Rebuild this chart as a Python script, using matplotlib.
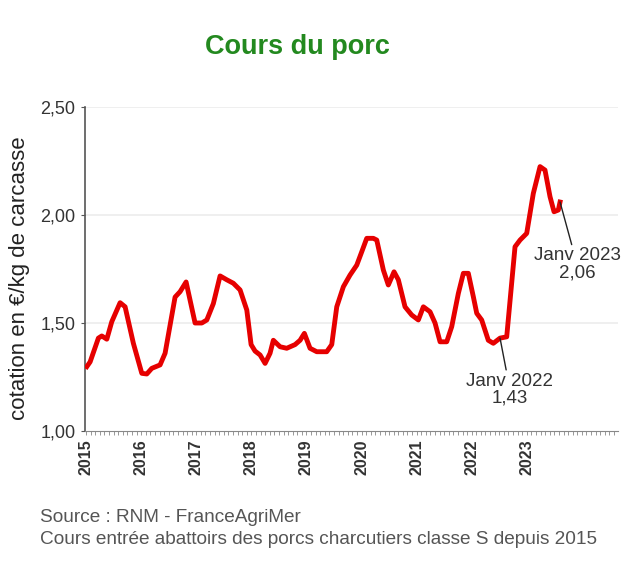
import matplotlib
matplotlib.use("Agg")
import matplotlib.pyplot as plt
from matplotlib.ticker import FixedLocator, FuncFormatter
import numpy as np

plt.rcParams['font.family'] = ['Liberation Sans', 'DejaVu Sans']

# weekly price (decimal year, EUR/kg carcass)
t = [2015.013, 2015.073, 2015.223, 2015.285, 2015.376, 2015.466, 2015.617, 2015.708,
     2015.858, 2016.011, 2016.102, 2016.192, 2016.343, 2016.434, 2016.615, 2016.706,
     2016.815, 2016.978, 2017.100, 2017.191, 2017.310, 2017.432, 2017.554, 2017.673,
     2017.795, 2017.917, 2017.995, 2018.067, 2018.158, 2018.249, 2018.339, 2018.399,
     2018.521, 2018.642, 2018.793, 2018.884, 2018.962, 2019.065, 2019.187, 2019.368,
     2019.459, 2019.550, 2019.670, 2019.791, 2019.913, 2020.004, 2020.094, 2020.214,
     2020.276, 2020.396, 2020.486, 2020.590, 2020.668, 2020.789, 2020.911, 2021.031,
     2021.122, 2021.243, 2021.334, 2021.425, 2021.546, 2021.637, 2021.757, 2021.848,
     2021.938, 2022.029, 2022.091, 2022.181, 2022.301, 2022.392, 2022.514, 2022.635,
     2022.786, 2022.877, 2022.998, 2023.118, 2023.240, 2023.330, 2023.421, 2023.494,
     2023.572, 2023.603]
price = [1.298, 1.32, 1.43, 1.44, 1.425, 1.506, 1.594, 1.575,
         1.406, 1.267, 1.264, 1.29, 1.306, 1.36, 1.62, 1.645,
         1.69, 1.50, 1.50, 1.514, 1.59, 1.718, 1.70, 1.684,
         1.653, 1.56, 1.40, 1.37, 1.352, 1.313, 1.36, 1.42,
         1.39, 1.383, 1.40, 1.42, 1.452, 1.383, 1.367, 1.367,
         1.40, 1.575, 1.668, 1.722, 1.768, 1.83, 1.892, 1.892,
         1.884, 1.745, 1.676, 1.737, 1.70, 1.575, 1.537, 1.514,
         1.575, 1.552, 1.50, 1.413, 1.413, 1.483, 1.637, 1.73,
         1.73, 1.622, 1.545, 1.514, 1.42, 1.406, 1.43, 1.436,
         1.853, 1.884, 1.915, 2.10, 2.224, 2.208, 2.085, 2.015,
         2.023, 2.06]

years = list(range(2015, 2024))
y_ticks = [1.0, 1.5, 2.0, 2.5]

# annotated points: (x, y, label)
notes = [(2022.514, 1.43, "Janv 2022\n1,43"),
         (2023.603, 2.06, "Janv 2023\n2,06")]

fig = plt.figure(figsize=(6.42, 5.62), dpi=100)
ax = fig.add_axes([0.1324, 0.2331, 0.8302, 0.5765])

ax.plot(t, price, color='#e60000', lw=3.5, solid_joinstyle='round', zorder=3)

ax.set_xlim(2014.98, 2024.655)
ax.set_ylim(1.0, 2.5)

ax.yaxis.set_major_locator(FixedLocator(y_ticks))
ax.yaxis.set_major_formatter(FuncFormatter(lambda v, p: f"{v:.2f}".replace('.', ',')))
ax.set_xticks(years)
ax.set_xticklabels([str(y) for y in years], rotation=90, fontsize=11.5,
                   color='#333333', fontweight='bold')
ax.set_xticks(np.arange(2015, 2024.65, 1 / 12), minor=True)
ax.tick_params(axis='x', which='both', length=3, width=0.6, color='#888888', pad=3)
ax.tick_params(axis='y', length=3, width=0.8, color='#555555', labelsize=13,
               labelcolor='#333333', pad=4)

for v in y_ticks[1:]:
    ax.axhline(v, color='#ececec', lw=1.2, zorder=0)

for s in ['top', 'right']:
    ax.spines[s].set_visible(False)
ax.spines['left'].set_color('#555555')
ax.spines['bottom'].set_color('#888888')
ax.spines['left'].set_linewidth(1.2)

# annotations
offsets = [(0.18, -0.16), (0.31, -0.21)]
for (x, y, lab), (dx, dy) in zip(notes, offsets):
    ax.annotate(lab, xy=(x, y), xytext=(x + dx, y + dy), ha='center', va='top',
                fontsize=13.5, color='#333333', linespacing=1.0,
                arrowprops=dict(arrowstyle='-', color='#222222', lw=1.0,
                                shrinkA=0, shrinkB=0))

fig.text(0.464, 0.916, "Cours du porc", ha='center', va='center',
         fontsize=19.5, fontweight='bold', color='#23891f')
fig.text(0.030, 1 - 278 / 562, "cotation en €/kg de carcasse", rotation=90,
         ha='center', va='center', fontsize=16, color='#222222')
fig.text(0.062, 1 - 518 / 562, "Source : RNM - FranceAgriMer", ha='left',
         va='center', fontsize=13.7, color='#555555')
fig.text(0.062, 1 - 539 / 562,
         "Cours entrée abattoirs des porcs charcutiers classe S depuis 2015",
         ha='left', va='center', fontsize=13.7, color='#555555')

fig.savefig("out.png", dpi=100, facecolor='white')
